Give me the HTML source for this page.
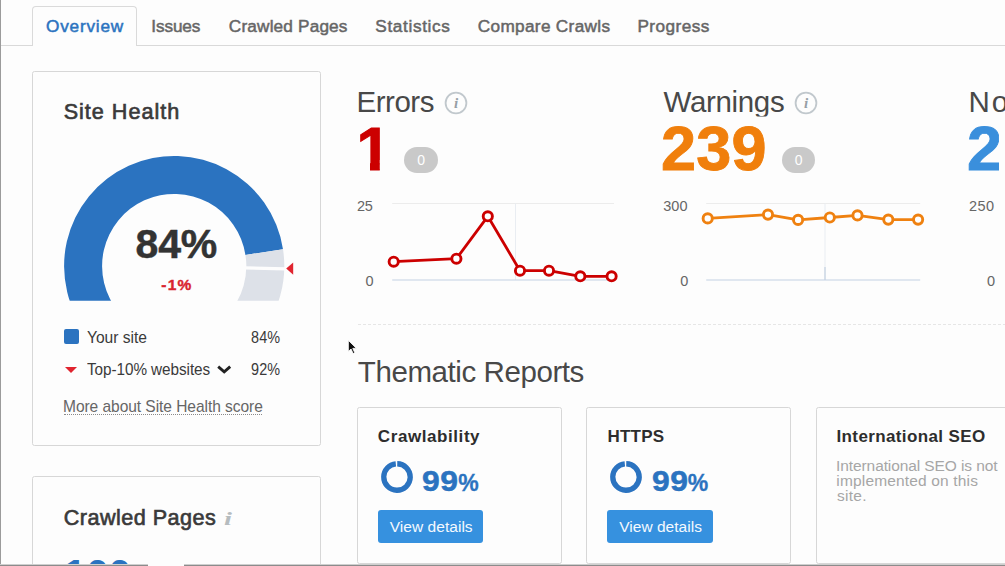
<!DOCTYPE html>
<html lang="en">
<head>
<meta charset="utf-8">
<title>Site Audit - Overview</title>
<style>
html,body{margin:0;padding:0;}
body{width:1005px;height:566px;overflow:hidden;position:relative;background:#fdfdfd;font-family:'Liberation Sans', sans-serif;}
.abs{position:absolute;display:block;}
.t{position:absolute;white-space:nowrap;display:block;margin:0;padding:0;}
.frame-l{position:absolute;left:0;top:0;width:1.2px;height:566px;background:#9b9b9b;}
.frame-b{position:absolute;top:564px;height:2px;background:linear-gradient(#cfcfcf 0,#cfcfcf 50%,#8c8c8c 50%,#8c8c8c 100%);}
.tabline{position:absolute;left:1px;top:45px;width:1004px;height:1px;background:#d9d9d9;}
.tab-active{position:absolute;left:32px;top:6px;width:105.2px;height:40px;box-sizing:border-box;border:1px solid #dadada;border-bottom:none;border-radius:4px 4px 0 0;background:#fdfdfd;}
.card{position:absolute;box-sizing:border-box;border:1px solid #d7d7d7;border-radius:2.5px;background:#fdfdfd;}
.sq{position:absolute;left:63.6px;top:329.2px;width:15px;height:15px;border-radius:2px;background:#2b73c0;}
.tri{position:absolute;left:64.9px;top:366.8px;width:0;height:0;border-left:6.4px solid transparent;border-right:6.4px solid transparent;border-top:6.4px solid #e0242f;}
.dots{position:absolute;left:63.6px;top:414.4px;width:198.4px;height:0;border-top:1px dotted #8a8a8a;}
.badge{position:absolute;top:147px;width:33.6px;height:26px;border-radius:13px;background:#c9c9c9;}
.sep{position:absolute;left:357.5px;top:324px;width:648px;height:0;border-top:1px dashed #e6e6e6;}
.btn{position:absolute;top:510px;width:105.4px;height:32.8px;border-radius:3px;background:#3691df;}
</style>
</head>
<body>
<!-- tabs -->
<nav>
<div class="tabline"></div>
<div class="tab-active"></div>
<span class="t" style="left:46.12px;top:18.00px;font-size:17.2px;line-height:17.2px;color:#2b73c0;letter-spacing:0.773px;-webkit-text-stroke:0.5px #2b73c0;">Overview</span>
<span class="t" style="left:151.24px;top:18.00px;font-size:17.2px;line-height:17.2px;color:#666666;letter-spacing:-0.103px;-webkit-text-stroke:0.5px #666666;">Issues</span>
<span class="t" style="left:228.85px;top:18.00px;font-size:17.2px;line-height:17.2px;color:#666666;letter-spacing:0.171px;-webkit-text-stroke:0.5px #666666;">Crawled Pages</span>
<span class="t" style="left:375.35px;top:18.00px;font-size:17.2px;line-height:17.2px;color:#666666;letter-spacing:0.637px;-webkit-text-stroke:0.5px #666666;">Statistics</span>
<span class="t" style="left:477.81px;top:18.00px;font-size:17.2px;line-height:17.2px;color:#666666;letter-spacing:0.325px;-webkit-text-stroke:0.5px #666666;">Compare Crawls</span>
<span class="t" style="left:637.41px;top:18.00px;font-size:17.2px;line-height:17.2px;color:#666666;letter-spacing:0.464px;-webkit-text-stroke:0.5px #666666;">Progress</span>
</nav>

<!-- site health -->
<section>
<div class="card" style="left:32px;top:71px;width:288.6px;height:374.6px;"></div>
<span class="t" style="left:63.63px;top:101.00px;font-size:21.6px;line-height:21.6px;color:#3a3a3a;letter-spacing:0.999px;-webkit-text-stroke:0.65px #3a3a3a;">Site Health</span>
<svg class="abs" style="left:0;top:0" width="340" height="301" viewBox="0 0 340 301">
<defs><clipPath id="gclip"><rect x="0" y="0" width="340" height="300.7"/></clipPath></defs>
<g clip-path="url(#gclip)">
<path d="M89.86 336.77A110.1 110.1 0 1 1 283.00 249.16L245.45 254.97A72.1 72.1 0 1 0 118.97 312.34Z" fill="#2b73c0"/>
<path d="M283.00 249.16A110.1 110.1 0 0 1 258.54 336.77L229.43 312.34A72.1 72.1 0 0 0 245.45 254.97Z" fill="#dde1e8"/>
<path d="M245.28 267.86L285.26 268.91" stroke="#fdfdfd" stroke-width="3.3"/>
</g>
<path d="M286.2 268.6L293.2 262.6L293.2 274.8Z" fill="#e0242f"/>
</svg>
<span class="t" style="left:135.53px;top:224.00px;font-size:41px;line-height:41px;color:#333333;letter-spacing:-0.192px;font-weight:bold;-webkit-text-stroke:0.5px #333333;">84%</span>
<span class="t" style="left:161.33px;top:277.00px;font-size:15.5px;line-height:15.5px;color:#d9242f;letter-spacing:1.164px;font-weight:bold;-webkit-text-stroke:0.4px #d9242f;">-1%</span>
<div class="sq"></div>
<span class="t" style="left:86.77px;top:330.00px;font-size:16px;line-height:16px;color:#3a3a3a;letter-spacing:-0.021px;transform:scaleX(0.975);transform-origin:0 0;">Your site</span>
<span class="t" style="left:250.60px;top:330.00px;font-size:16px;line-height:16px;color:#3a3a3a;letter-spacing:0.153px;transform:scaleX(0.9);transform-origin:0 0;">84%</span>
<div class="tri"></div>
<span class="t" style="left:87.28px;top:362.00px;font-size:16px;line-height:16px;color:#3a3a3a;letter-spacing:-0.056px;transform:scaleX(0.955);transform-origin:0 0;">Top-10% websites</span>
<svg class="abs" style="left:216px;top:364px" width="17" height="12" viewBox="0 0 17 12"><path d="M2.2 2.7L8.2 7.8L14.2 2.7" fill="none" stroke="#222" stroke-width="2.9"/></svg>
<span class="t" style="left:250.58px;top:362.00px;font-size:16px;line-height:16px;color:#3a3a3a;letter-spacing:0.173px;transform:scaleX(0.9);transform-origin:0 0;">92%</span>
<span class="t" style="left:62.53px;top:398.00px;font-size:16.2px;line-height:16.2px;color:#666666;letter-spacing:-0.056px;transform:scaleX(0.96);transform-origin:0 0;">More about Site Health score</span>
<div class="dots"></div>
</section>

<!-- crawled pages -->
<section>
<div class="card" style="left:32px;top:476.4px;width:288.6px;height:120px;"></div>
<span class="t" style="left:63.79px;top:507.00px;font-size:21.6px;line-height:21.6px;color:#3a3a3a;letter-spacing:0.467px;-webkit-text-stroke:0.65px #3a3a3a;">Crawled Pages</span>
<span class="t" style="left:223.78px;top:510.00px;font-size:18.5px;line-height:18.5px;color:#b6bcbf;font-weight:bold;font-style:italic;font-family:'Liberation Serif', serif;transform:scaleX(1.55);transform-origin:0 0;">i</span>
<span class="t" style="left:64.11px;top:554.00px;font-size:40px;line-height:40px;color:#2b73c0;letter-spacing:0.092px;font-weight:bold;">100</span>
</section>

<!-- errors / warnings / notices -->
<section>
<span class="t" style="left:356.41px;top:87.00px;font-size:29.5px;line-height:29.5px;color:#484848;letter-spacing:-0.445px;">Errors</span>
<svg class="abs" style="left:443.3px;top:89.5px" width="26" height="26" viewBox="0 0 26 26"><circle cx="13" cy="13" r="10.4" fill="#fdfdfd" stroke="#c1c8cd" stroke-width="1.8"/><text x="13.2" y="18" text-anchor="middle" font-family="'Liberation Serif', serif" font-style="italic" font-weight="bold" font-size="15" fill="#979fa6">i</text></svg>
<span class="t" style="left:356.48px;top:118.00px;font-size:61.6px;line-height:61.6px;color:#cc0000;font-weight:bold;-webkit-text-stroke:0.9px #cc0000;clip-path:polygon(0 -18.0px,100% -18.0px,100% 42.0px,23.3px 42.0px,23.3px 62.0px,13.5px 62.0px,13.5px 42.0px,0 42.0px);">1</span>
<div class="badge" style="left:404.2px;"></div>
<span class="t" style="left:411.20px;top:152.75px;width:20px;text-align:center;font-size:14px;line-height:14px;color:#fff;">0</span>
<span class="t" style="left:663.56px;top:87.00px;font-size:29.5px;line-height:29.5px;color:#484848;letter-spacing:-0.346px;clip-path:inset(-5px -5px 0.1px -5px);">Warnings</span>
<svg class="abs" style="left:793.2px;top:89.5px" width="26" height="26" viewBox="0 0 26 26"><circle cx="13" cy="13" r="10.4" fill="#fdfdfd" stroke="#c1c8cd" stroke-width="1.8"/><text x="13.2" y="18" text-anchor="middle" font-family="'Liberation Serif', serif" font-style="italic" font-weight="bold" font-size="15" fill="#979fa6">i</text></svg>
<span class="t" style="left:661.04px;top:117.00px;font-size:63px;line-height:63px;color:#f07f0c;letter-spacing:0.163px;font-weight:bold;-webkit-text-stroke:0.9px #f07f0c;">239</span>
<div class="badge" style="left:781.7px;"></div>
<span class="t" style="left:788.70px;top:152.75px;width:20px;text-align:center;font-size:14px;line-height:14px;color:#fff;">0</span>
<span class="t" style="left:968.46px;top:87.00px;font-size:29.5px;line-height:29.5px;color:#484848;letter-spacing:2.116px;">No</span>
<span class="t" style="left:967.11px;top:117.00px;font-size:63px;line-height:63px;color:#3a8fdc;font-weight:bold;-webkit-text-stroke:0.9px #3a8fdc;clip-path:polygon(-5px -5px,31.9px -5px,31.9px 120%,-5px 120%);">2</span>
<svg class="abs" style="left:0;top:0" width="1005" height="300" viewBox="0 0 1005 300">
<line x1="392.2" y1="203.5" x2="614" y2="203.5" stroke="#ececec" stroke-width="1"/><line x1="515.5" y1="203.5" x2="515.5" y2="280" stroke="#e9edf2" stroke-width="1"/><line x1="392.2" y1="280" x2="614" y2="280" stroke="#c3d2e4" stroke-width="1.2"/><polyline points="393.7,261.7 456.4,258.7 487.8,216.3 520.0,270.7 549.0,270.7 580.3,276.3 611.6,276.3" fill="none" stroke="#cc0000" stroke-width="2.8" stroke-linejoin="round"/><circle cx="393.7" cy="261.7" r="4.6" fill="#ffffff" stroke="#cc0000" stroke-width="2.9"/><circle cx="456.4" cy="258.7" r="4.6" fill="#ffffff" stroke="#cc0000" stroke-width="2.9"/><circle cx="487.8" cy="216.3" r="4.6" fill="#ffffff" stroke="#cc0000" stroke-width="2.9"/><circle cx="520.0" cy="270.7" r="4.6" fill="#ffffff" stroke="#cc0000" stroke-width="2.9"/><circle cx="549.0" cy="270.7" r="4.6" fill="#ffffff" stroke="#cc0000" stroke-width="2.9"/><circle cx="580.3" cy="276.3" r="4.6" fill="#ffffff" stroke="#cc0000" stroke-width="2.9"/><circle cx="611.6" cy="276.3" r="4.6" fill="#ffffff" stroke="#cc0000" stroke-width="2.9"/>
<line x1="706.2" y1="203.5" x2="920.2" y2="203.5" stroke="#ececec" stroke-width="1"/><line x1="825" y1="203.5" x2="825" y2="280" stroke="#e9edf2" stroke-width="1"/><line x1="825" y1="267" x2="825" y2="280" stroke="#b9c9dc" stroke-width="1"/><line x1="706.2" y1="280" x2="920.2" y2="280" stroke="#c3d2e4" stroke-width="1.2"/><polyline points="707.7,218.4 768.0,214.6 798.1,219.9 829.8,217.5 857.5,215.4 888.3,219.6 918.1,219.6" fill="none" stroke="#ef8110" stroke-width="2.8" stroke-linejoin="round"/><circle cx="707.7" cy="218.4" r="4.6" fill="#ffffff" stroke="#ef8110" stroke-width="2.9"/><circle cx="768.0" cy="214.6" r="4.6" fill="#ffffff" stroke="#ef8110" stroke-width="2.9"/><circle cx="798.1" cy="219.9" r="4.6" fill="#ffffff" stroke="#ef8110" stroke-width="2.9"/><circle cx="829.8" cy="217.5" r="4.6" fill="#ffffff" stroke="#ef8110" stroke-width="2.9"/><circle cx="857.5" cy="215.4" r="4.6" fill="#ffffff" stroke="#ef8110" stroke-width="2.9"/><circle cx="888.3" cy="219.6" r="4.6" fill="#ffffff" stroke="#ef8110" stroke-width="2.9"/><circle cx="918.1" cy="219.6" r="4.6" fill="#ffffff" stroke="#ef8110" stroke-width="2.9"/>
</svg>
<span class="t" style="left:356.96px;top:199.00px;font-size:14.5px;line-height:14.5px;color:#666666;letter-spacing:-0.274px;">25</span>
<span class="t" style="left:365.38px;top:274.00px;font-size:14.5px;line-height:14.5px;color:#666666;">0</span>
<span class="t" style="left:663.13px;top:199.00px;font-size:14.5px;line-height:14.5px;color:#666666;letter-spacing:0.162px;">300</span>
<span class="t" style="left:680.32px;top:274.00px;font-size:14.5px;line-height:14.5px;color:#666666;">0</span>
<span class="t" style="left:969.10px;top:199.00px;font-size:14.5px;line-height:14.5px;color:#666666;letter-spacing:0.328px;">250</span>
<span class="t" style="left:987.09px;top:274.00px;font-size:14.5px;line-height:14.5px;color:#666666;">0</span>
</section>

<div class="sep"></div>
<svg class="abs" style="left:346.7px;top:339.4px" width="14" height="20" viewBox="0 0 14 20"><path transform="scale(0.88)" d="M1.5 1.5L1.5 14.2L4.6 11.4L6.9 16.6L8.9 15.7L6.6 10.7L10.6 10.5Z" fill="#111" stroke="#fff" stroke-width="1" stroke-linejoin="round"/></svg>

<!-- thematic reports -->
<section>
<span class="t" style="left:357.87px;top:357.00px;font-size:29.5px;line-height:29.5px;color:#484848;letter-spacing:-0.422px;">Thematic Reports</span>
<div class="card" style="left:357px;top:407px;width:204.6px;height:157px;"></div>
<span class="t" style="left:377.86px;top:428.00px;font-size:17px;line-height:17px;color:#2d2d2d;letter-spacing:0.572px;font-weight:bold;">Crawlability</span>
<svg class="abs" style="left:379px;top:458.6px" width="36" height="36" viewBox="0 0 36 36"><circle cx="18" cy="18" r="13.25" fill="none" stroke="#2b73c0" stroke-width="5.3" stroke-dasharray="81.25 2.00" transform="rotate(-89 18 18)"/></svg>
<span class="t" style="left:422.38px;top:467.00px;font-size:29px;line-height:29px;color:#2b73c0;letter-spacing:0.449px;font-weight:bold;transform:scaleX(1.1);transform-origin:0 0;-webkit-text-stroke:0.5px #2b73c0;">99</span>
<span class="t" style="left:458.31px;top:472.00px;font-size:23px;line-height:23px;color:#2b73c0;font-weight:bold;-webkit-text-stroke:0.3px #2b73c0;">%</span>
<div class="btn" style="left:378px;"></div>
<span class="t" style="left:389.76px;top:519.00px;font-size:15.5px;line-height:15.5px;color:#f4f9fe;letter-spacing:0.040px;">View details</span>

<div class="card" style="left:586.4px;top:407px;width:204.6px;height:157px;"></div>
<span class="t" style="left:607.55px;top:428.00px;font-size:17px;line-height:17px;color:#2d2d2d;letter-spacing:0.198px;font-weight:bold;">HTTPS</span>
<svg class="abs" style="left:608.3px;top:458.6px" width="36" height="36" viewBox="0 0 36 36"><circle cx="18" cy="18" r="13.25" fill="none" stroke="#2b73c0" stroke-width="5.3" stroke-dasharray="81.25 2.00" transform="rotate(-89 18 18)"/></svg>
<span class="t" style="left:651.66px;top:467.00px;font-size:29px;line-height:29px;color:#2b73c0;letter-spacing:0.453px;font-weight:bold;transform:scaleX(1.1);transform-origin:0 0;-webkit-text-stroke:0.5px #2b73c0;">99</span>
<span class="t" style="left:687.63px;top:472.00px;font-size:23px;line-height:23px;color:#2b73c0;font-weight:bold;-webkit-text-stroke:0.3px #2b73c0;">%</span>
<div class="btn" style="left:607.3px;"></div>
<span class="t" style="left:619.18px;top:519.00px;font-size:15.5px;line-height:15.5px;color:#f4f9fe;letter-spacing:0.035px;">View details</span>

<div class="card" style="left:815.8px;top:407px;width:204.6px;height:157px;"></div>
<span class="t" style="left:836.49px;top:428.00px;font-size:17px;line-height:17px;color:#2d2d2d;letter-spacing:0.377px;font-weight:bold;">International SEO</span>
<span class="t" style="left:836.09px;top:458.00px;font-size:15.5px;line-height:15.5px;color:#a6a6a6;letter-spacing:-0.097px;">International SEO is not</span>
<span class="t" style="left:836.37px;top:473.00px;font-size:15.5px;line-height:15.5px;color:#a6a6a6;letter-spacing:0.157px;">implemented on this</span>
<span class="t" style="left:836.91px;top:488.00px;font-size:15.5px;line-height:15.5px;color:#a6a6a6;letter-spacing:0.318px;">site.</span>
</section>

<!-- window frame -->
<div class="frame-l"></div>
<div class="frame-b" style="left:0;width:147.5px;"></div>
<div class="frame-b" style="left:184.1px;width:821px;"></div>
</body>
</html>
